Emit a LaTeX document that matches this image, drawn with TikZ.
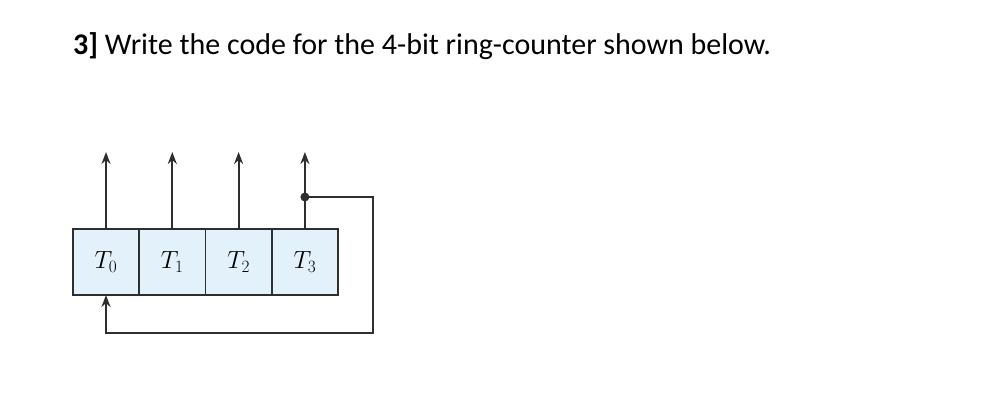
\documentclass[tikz,border=0pt]{standalone}
\usepackage{fontspec}
\setmainfont{Carlito}
\usetikzlibrary{arrows.meta}
\definecolor{boxfill}{HTML}{E3F1FB}
\definecolor{wire}{HTML}{2E2E2E}
\begin{document}
\begin{tikzpicture}[x=1pt,y=-1pt,
  cell/.style={draw=wire,line width=1.8pt,fill=boxfill,minimum width=66.3pt,minimum height=66pt,inner sep=0pt,outer sep=0pt,font=\fontsize{26}{26}\selectfont},
  wireline/.style={draw=wire,line width=2pt},
  arr/.style={wireline,-{Stealth[length=12pt,width=9pt]}}]
\useasboundingbox (0,0) rectangle (982,410);
\node[anchor=base west,inner sep=0pt,font=\fontsize{30}{36}\selectfont] (title) at (73,54) {\textbf{3]} Write the code for the 4-bit ring-counter shown below.};
\node[cell] (t0) at (106,262) {$T_0$};
\node[cell,anchor=west] (t1) at (t0.east) {$T_1$};
\node[cell,anchor=west] (t2) at (t1.east) {$T_2$};
\node[cell,anchor=west] (t3) at (t2.east) {$T_3$};
\coordinate (top) at (0,152);
\coordinate (dot) at (t3.north |- 0,197);
\draw[arr] (t0.north) -- (t0.north |- top);
\draw[arr] (t1.north) -- (t1.north |- top);
\draw[arr] (t2.north) -- (t2.north |- top);
\draw[arr] (t3.north) -- (t3.north |- top);
\fill[wire] (dot) circle (4.5pt);
\coordinate (rt) at (373,197);
\coordinate (rb) at (373,333);
\draw[arr] (dot) -- (rt) -- (rb) -- (t0.south |- rb) -- (t0.south);
\end{tikzpicture}
\end{document}
